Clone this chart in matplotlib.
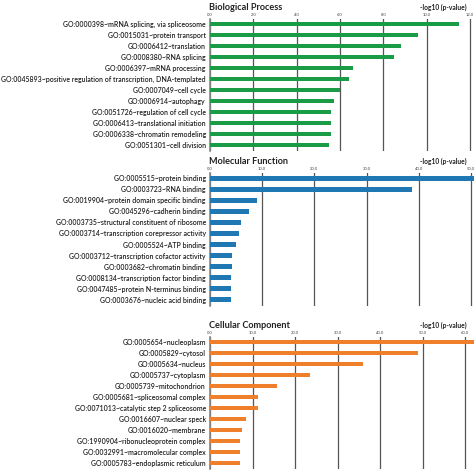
import matplotlib.pyplot as plt
from matplotlib.ticker import FormatStrFormatter

bp_terms = ['GO:0000398~mRNA splicing, via spliceosome', 'GO:0015031~protein transport',
            'GO:0006412~translation', 'GO:0008380~RNA splicing', 'GO:0006397~mRNA processing',
            'GO:0045893~positive regulation of transcription, DNA-templated', 'GO:0007049~cell cycle',
            'GO:0006914~autophagy', 'GO:0051726~regulation of cell cycle',
            'GO:0006413~translational initiation', 'GO:0006338~chromatin remodeling',
            'GO:0051301~cell division']
bp_vals = [11.5, 9.6, 8.8, 8.5, 6.6, 6.4, 6.0, 5.7, 5.6, 5.6, 5.6, 5.5]

mf_terms = ['GO:0005515~protein binding', 'GO:0003723~RNA binding',
            'GO:0019904~protein domain specific binding', 'GO:0045296~cadherin binding',
            'GO:0003735~structural constituent of ribosome', 'GO:0003714~transcription corepressor activity',
            'GO:0005524~ATP binding', 'GO:0003712~transcription cofactor activity',
            'GO:0003682~chromatin binding', 'GO:0008134~transcription factor binding',
            'GO:0047485~protein N-terminus binding', 'GO:0003676~nucleic acid binding']
mf_vals = [52.0, 38.8, 9.0, 7.5, 6.0, 5.6, 5.0, 4.3, 4.3, 4.0, 4.0, 4.0]

cc_terms = ['GO:0005654~nucleoplasm', 'GO:0005829~cytosol', 'GO:0005634~nucleus',
            'GO:0005737~cytoplasm', 'GO:0005739~mitochondrion', 'GO:0005681~spliceosomal complex',
            'GO:0071013~catalytic step 2 spliceosome', 'GO:0016607~nuclear speck',
            'GO:0016020~membrane', 'GO:1990904~ribonucleoprotein complex',
            'GO:0032991~macromolecular complex', 'GO:0005783~endoplasmic reticulum']
cc_vals = [63.5, 49.0, 36.0, 23.5, 15.8, 11.3, 11.2, 8.5, 7.5, 7.0, 7.1, 7.1]

plt.rcParams['font.family'] = ['Lato', 'DejaVu Sans']

W = 474.0
fig = plt.figure(figsize=(4.74, 4.74), dpi=100)

panels = [
    ('Biological Process', bp_terms, bp_vals, '#1a9b45', 12.18, 2, 18.5, 150.5),
    ('Molecular Function', mf_terms, mf_vals, '#1f78b4', 50.6, 10, 172.5, 305.5),
    ('Cellular Component', cc_terms, cc_vals, '#f07f2c', 62.1, 10, 336.5, 468.5),
]

for title, terms, vals, color, xmax, step, top, bottom in panels:
    ax = fig.add_axes([210 / W, 1 - bottom / W, (W - 210) / W, (bottom - top) / W])
    ax.barh(range(len(vals)), vals, height=0.45, color=color, zorder=3)
    ax.set_ylim(len(vals) - 0.5, -0.5)
    ax.set_xlim(0, xmax)
    ax.set_yticks(range(len(terms)))
    ax.set_yticklabels(terms, fontsize=5.05, fontweight='semibold', color='#222222')
    ax.set_xticks([step * i for i in range(int(xmax // step) + 1)])
    ax.xaxis.set_major_formatter(FormatStrFormatter('%.1f'))
    ax.xaxis.tick_top()
    ax.tick_params(axis='x', labelsize=3, length=0, pad=1, colors='#444444')
    ax.tick_params(axis='y', length=0, pad=3)
    ax.grid(axis='x', color='#555555', linewidth=0.9, zorder=0)
    for s in ['top', 'right', 'bottom']:
        ax.spines[s].set_visible(False)
    ax.spines['left'].set_color('#888888')
    ax.spines['left'].set_linewidth(1.2)
    ax.set_facecolor('none')
    fig.text(209 / W, 1 - (top - 11) / W, title, fontsize=6.6, fontweight='bold',
             ha='left', va='center', color='#222222')
    fig.text(467 / W, 1 - (top - 11) / W, '-log10 (p-value)', fontsize=4.8, fontweight='bold',
             ha='right', va='center', color='#222222')

plt.savefig('out.png', dpi=100)
